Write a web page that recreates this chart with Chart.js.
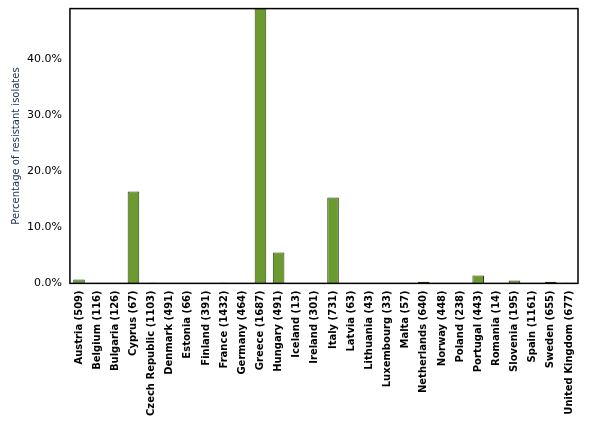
<!DOCTYPE html>
<html>
<head>
<meta charset="utf-8">
<script src="https://cdn.jsdelivr.net/npm/chart.js@4"></script>
<style>
  html, body { margin: 0; padding: 0; background: #fff; }
  #wrap { width: 600px; height: 435px; }
</style>
</head>
<body>
<div id="wrap"><canvas id="chart"></canvas></div>
<script>
// Countries with number of isolates tested
const countries = ['Austria (509)', 'Belgium (116)', 'Bulgaria (126)', 'Cyprus (67)',
    'Czech Republic (1103)', 'Denmark (491)', 'Estonia (66)', 'Finland (391)', 'France (1432)',
    'Germany (464)', 'Greece (1687)', 'Hungary (491)', 'Iceland (13)', 'Ireland (301)',
    'Italy (731)', 'Latvia (63)', 'Lithuania (43)', 'Luxembourg (33)', 'Malta (57)',
    'Netherlands (640)', 'Norway (448)', 'Poland (238)', 'Portugal (443)', 'Romania (14)',
    'Slovenia (195)', 'Spain (1161)', 'Sweden (655)', 'United Kingdom (677)'];

// Percentage of resistant isolates
const resistant = [0.7, 0, 0, 16.4, 0.1, 0, 0, 0, 0.1,
    0, 49.5, 5.5, 0, 0, 15.3, 0, 0, 0, 0,
    0.3, 0, 0, 1.4, 0, 0.5, 0, 0.3, 0.1];

const yMax = 49;
const yStep = 10;

// box around the plot area
const frame = {
    id: 'frame',
    afterDraw(chart) {
        const { ctx, chartArea: a } = chart;
        ctx.save();
        ctx.strokeStyle = '#000';
        ctx.lineWidth = 1.5;
        ctx.strokeRect(a.left, a.top, a.right - a.left, a.bottom - a.top);
        ctx.restore();
    }
};

const ctx = document.getElementById('chart').getContext('2d');
new Chart(ctx, {
    type: 'bar',
    data: {
        labels: countries,
        datasets: [{
            label: 'Resistant',
            data: resistant,
            backgroundColor: '#6b9a2f',
            borderColor: '#2f3d12',
            borderWidth: 1,
            borderSkipped: false,
            barPercentage: 0.64,
            categoryPercentage: 1
        }]
    },
    options: {
        responsive: true,
        maintainAspectRatio: false,
        animation: false,
        layout: { padding: { top: 7, right: 22, left: 10, bottom: 12 } },
        plugins: {
            legend: { display: false },
            tooltip: { enabled: false }
        },
        scales: {
            x: {
                grid: { display: false, drawTicks: false },
                border: { display: false },
                ticks: {
                    maxRotation: 90,
                    minRotation: 90,
                    autoSkip: false,
                    padding: 7,
                    color: '#000',
                    font: { family: 'DejaVu Sans', size: 10, weight: 'bold' }
                }
            },
            y: {
                min: 0,
                max: yMax,
                afterBuildTicks: axis => {
                    axis.ticks = axis.ticks.filter(t => t.value % yStep === 0);
                },
                grid: { display: false, drawTicks: true, tickLength: 6, tickColor: '#000' },
                border: { display: false },
                ticks: {
                    stepSize: yStep,
                    padding: 2,
                    color: '#000',
                    font: { family: 'DejaVu Sans', size: 11 },
                    callback: v => v.toFixed(1) + '%'
                },
                title: {
                    display: true,
                    text: 'Percentage of resistant isolates',
                    color: '#1c2f4f',
                    padding: { top: 0, bottom: 3 },
                    font: { family: 'DejaVu Sans', size: 10 }
                }
            }
        }
    },
    plugins: [frame]
});
</script>
</body>
</html>
